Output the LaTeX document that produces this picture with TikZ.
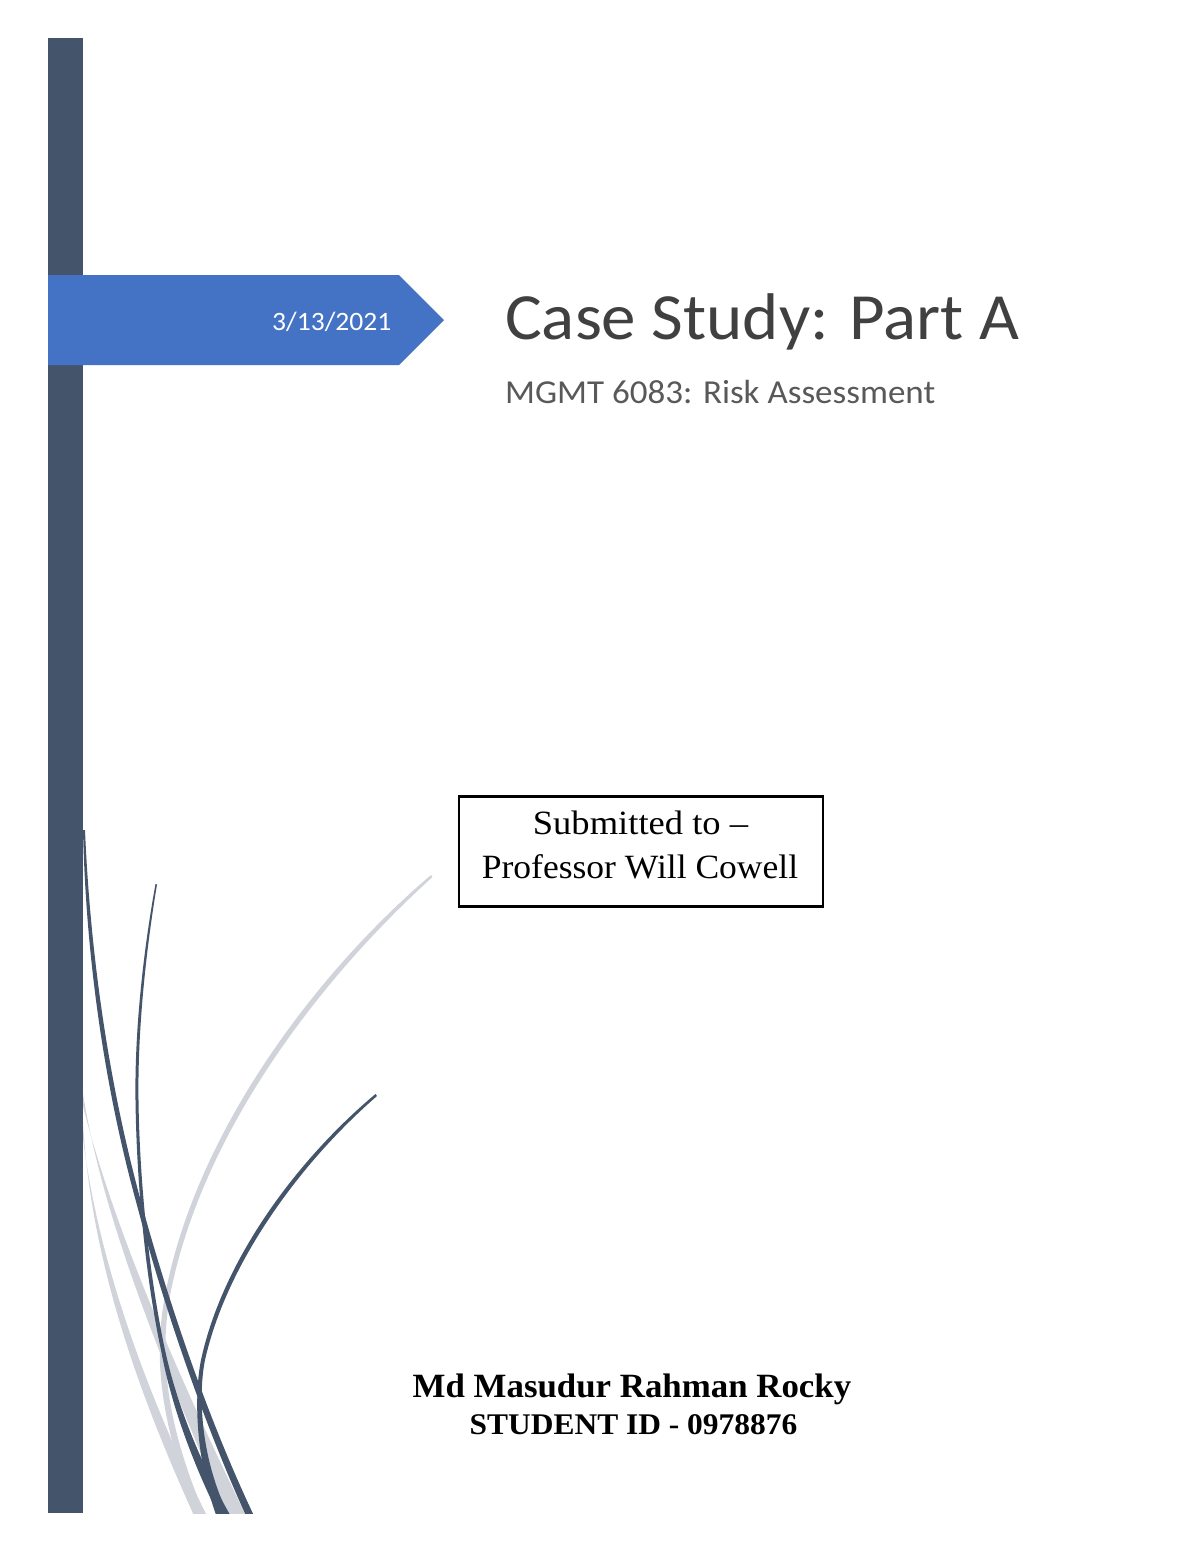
\documentclass[tikz,border=0pt]{standalone}
\usepackage{fontspec}
\setmainfont{Carlito}
\newfontfamily\serifcover{Liberation Serif}
\definecolor{barblue}{HTML}{44546A}
\definecolor{bannerblue}{HTML}{4472C4}
\definecolor{curvegray}{HTML}{D0D4DA}
\definecolor{titlegray}{HTML}{404040}
\definecolor{subgray}{HTML}{595959}
\tikzset{
  darkcurve/.style={fill=barblue,draw=none},
  graycurve/.style={fill=curvegray,draw=none},
  covertext/.style={inner sep=0pt,anchor=base west},
  centertext/.style={inner sep=0pt,anchor=base,text=black}
}
\begin{document}
\begin{tikzpicture}[x=1pt,y=-1pt]
\useasboundingbox[fill=white] (0,0) rectangle (1200,1553);
% side bar
\fill[barblue] (48,38) rectangle (83,1513);
\begin{scope}
\clip (83,800) rectangle (450,1513);
% gray D
\fill[graycurve] (431,875) .. controls (317,972) and (197,1130) .. (165.5,1293) .. controls (152,1360) and (162,1430) .. (199,1520)
  -- (207,1520) .. controls (168,1430) and (158,1360) .. (170.5,1293) .. controls (203,1130) and (322,977) .. (432.5,877) -- cycle;
% gray E
\fill[graycurve] (83,1094) .. controls (105,1230) and (170,1380) .. (229,1520)
  -- (248,1520) .. controls (180,1380) and (114,1230) .. (83,1106) -- cycle;
% gray F
\fill[graycurve] (83,1122) .. controls (91,1270) and (146,1410) .. (196,1520)
  -- (209,1520) .. controls (154,1410) and (99,1270) .. (83,1138) -- cycle;
% dark A
\fill[darkcurve] (83,830) .. controls (86,960) and (105,1090) .. (137.5,1207) .. controls (162,1300) and (202,1420) .. (248,1520)
  -- (256,1520) .. controls (208,1420) and (168,1300) .. (142.5,1207) .. controls (110,1090) and (90.5,960) .. (85,830) -- cycle;
% dark B
\fill[darkcurve] (155.5,884) .. controls (143.5,950) and (134.5,1030) .. (135.5,1100) .. controls (136.5,1180) and (145,1275) .. (161,1350) .. controls (172,1410) and (196,1470) .. (221,1520)
  -- (233,1520) .. controls (204,1470) and (178,1410) .. (165,1350) .. controls (149,1275) and (139.5,1180) .. (138.5,1100) .. controls (137.5,1030) and (146,950) .. (157,884.5) -- cycle;
% dark C
\fill[darkcurve] (375.5,1094) .. controls (299,1158) and (223,1258) .. (201,1360) .. controls (194,1395) and (195,1460) .. (218,1520)
  -- (231,1520) .. controls (200,1460) and (198,1395) .. (205,1360) .. controls (227,1262) and (301,1162) .. (377,1096) -- cycle;
\end{scope}
% banner
\fill[bannerblue] (48,275) -- (399,275) -- (444,320) -- (399,365) -- (48,365) -- cycle;
\node[covertext,text=white,font=\fontsize{26.5}{30}\selectfont] (date) at (272,330) {\scalebox{1.04}[1]{3/13/2021}};
% titles
\node[covertext,text=titlegray,font=\fontsize{66}{76}\selectfont] (title) at (505,339) {\scalebox{1.045}[1]{Case Study: Part A}};
\node[covertext,text=subgray,font=\fontsize{33.5}{38}\selectfont] (subtitle) at (505,403) {\scalebox{1.045}[1]{MGMT 6083: Risk Assessment}};
% submitted box
\node[draw=black,line width=2.2pt,minimum width=364pt,minimum height=110pt,inner sep=0pt] (box) at (641,851.5) {};
\node[centertext,font=\serifcover\fontsize{34}{40}\selectfont] (sub1) at (640.5,834) {\scalebox{1.075}[1]{Submitted to –}};
\node[centertext,font=\serifcover\fontsize{34}{40}\selectfont] (sub2) at (640,878) {\scalebox{1.045}[1]{Professor Will Cowell}};
% author
\node[centertext,font=\serifcover\bfseries\fontsize{34}{40}\selectfont] (author) at (632,1397) {\scalebox{1.025}[1]{Md Masudur Rahman Rocky}};
\node[centertext,font=\serifcover\bfseries\fontsize{30}{36}\selectfont] (sid) at (633.5,1434) {\scalebox{1.048}[1]{STUDENT ID - 0978876}};
\end{tikzpicture}
\end{document}
